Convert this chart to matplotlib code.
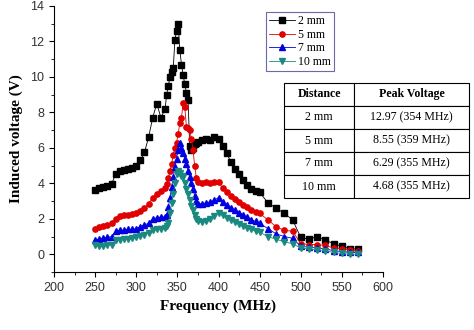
import matplotlib.pyplot as plt
from matplotlib.ticker import MultipleLocator

# frequency grid (MHz)
freq = [250, 255, 260, 265, 270, 275, 280, 285, 290, 295, 300, 305, 310, 315, 320, 325, 330, 335,
        337, 339, 341, 343, 345, 347, 349, 351, 353, 355, 357, 359, 361, 363, 365, 367, 369, 371, 373,
        375, 380, 385, 390, 395, 400, 405, 410, 415, 420, 425, 430, 435, 440, 445, 450,
        460, 470, 480, 490, 500, 510, 520, 530, 540, 550, 560, 570]

v_2mm = [3.65, 3.75, 3.8, 3.85, 3.95, 4.55, 4.7, 4.75, 4.8, 4.85, 4.95, 5.3, 5.75, 6.6, 7.7, 8.5, 7.7, 8.2,
         9.0, 9.5, 10.0, 10.3, 10.5, 12.1, 12.6, 12.97, 11.5, 10.7, 10.1, 9.6, 9.1, 8.7, 6.1, 5.9, 6.0, 6.2, 6.3,
         6.35, 6.45, 6.5, 6.45, 6.6, 6.5, 6.1, 5.7, 5.2, 4.8, 4.5, 4.2, 3.9, 3.7, 3.55, 3.5,
         2.9, 2.6, 2.3, 1.95, 0.95, 0.85, 1.0, 0.8, 0.6, 0.45, 0.3, 0.3]

v_5mm = [1.45, 1.55, 1.6, 1.65, 1.75, 2.0, 2.15, 2.2, 2.2, 2.25, 2.3, 2.45, 2.6, 2.85, 3.2, 3.4, 3.55, 3.75,
         3.95, 4.3, 4.7, 5.1, 5.6, 6.0, 6.3, 6.8, 7.4, 7.7, 8.55, 8.3, 7.2, 7.1, 7.0, 6.5, 5.9, 5.0, 4.3,
         4.05, 4.0, 4.05, 4.0, 4.1, 4.05, 3.75, 3.5, 3.3, 3.1, 2.95, 2.8, 2.65, 2.5, 2.4, 2.3,
         1.95, 1.55, 1.35, 1.3, 0.6, 0.55, 0.55, 0.5, 0.35, 0.3, 0.25, 0.2]

v_7mm = [0.8, 0.85, 0.9, 0.95, 1.0, 1.3, 1.35, 1.35, 1.4, 1.4, 1.45, 1.55, 1.65, 1.75, 2.0, 2.05, 2.1, 2.1,
         2.2, 2.65, 3.2, 3.8, 4.35, 4.9, 5.4, 5.9, 6.29, 6.0, 5.7, 5.4, 5.1, 4.7, 4.35, 4.0, 3.7, 3.3, 3.0,
         2.85, 2.85, 2.9, 2.95, 3.05, 3.2, 2.95, 2.8, 2.6, 2.5, 2.35, 2.2, 2.1, 1.95, 1.85, 1.75,
         1.45, 1.15, 1.0, 0.9, 0.45, 0.4, 0.35, 0.3, 0.2, 0.15, 0.1, 0.1]

v_10mm = [0.5, 0.45, 0.45, 0.5, 0.55, 0.8, 0.8, 0.85, 0.85, 0.9, 0.95, 1.05, 1.1, 1.2, 1.35, 1.45, 1.45, 1.5,
          1.6, 1.75, 2.3, 2.9, 3.4, 4.0, 4.5, 4.68, 4.6, 4.4, 4.35, 4.0, 3.7, 3.4, 3.05, 2.75, 2.5, 2.2, 2.0,
          1.85, 1.8, 1.9, 2.0, 2.15, 2.3, 2.2, 2.05, 1.95, 1.8, 1.7, 1.6, 1.5, 1.4, 1.3, 1.25,
          1.0, 0.85, 0.7, 0.6, 0.35, 0.3, 0.25, 0.2, 0.1, 0.05, 0.0, 0.0]

labels = ['2 mm', '5 mm', '7 mm', '10 mm']
colors = ['black', '#e00000', '#0000e0', '#1a8a80']
markers = ['s', 'o', '^', 'v']

table_head = ['Distance', 'Peak Voltage']
table_rows = [['2 mm', '12.97 (354 MHz)'],
              ['5 mm', '8.55 (359 MHz)'],
              ['7 mm', '6.29 (355 MHz)'],
              ['10 mm', '4.68 (355 MHz)']]

fig = plt.figure(figsize=(4.74, 3.30), dpi=100)
ax = fig.add_axes([54 / 474, 1 - 272 / 330, 329 / 474, 266 / 330])

for vals, lab, c, m in zip([v_2mm, v_5mm, v_7mm, v_10mm], labels, colors, markers):
    ax.plot(freq, vals, color=c, marker=m, markersize=3.8, linewidth=0.6, label=lab)

ax.set_xlim(200, 600)
ax.set_ylim(-1, 14)
ax.xaxis.set_major_locator(MultipleLocator(50))
ax.xaxis.set_minor_locator(MultipleLocator(25))
ax.yaxis.set_major_locator(MultipleLocator(2))
ax.yaxis.set_minor_locator(MultipleLocator(1))
ax.spines['top'].set_visible(False)
ax.spines['right'].set_visible(False)
ax.tick_params(which='major', direction='out', length=3.5, width=0.8, labelsize=9, labelcolor='#333333')
ax.tick_params(which='minor', direction='out', length=2, width=0.6)
for t in ax.get_xticklabels() + ax.get_yticklabels():
    t.set_family('Liberation Sans')

ax.set_xlabel('Frequency (MHz)', family='Liberation Serif', fontweight='bold', fontsize=11, labelpad=4)
ax.set_ylabel('Induced voltage (V)', family='Liberation Serif', fontweight='bold', fontsize=11, labelpad=5)

leg = fig.legend(loc='upper left', bbox_to_anchor=(266 / 474, 1 - 12 / 330), borderaxespad=0,
                 prop={'family': 'Liberation Serif', 'size': 8.5}, handlelength=2.2, handletextpad=0.3,
                 labelspacing=0.15, borderpad=0.25, fancybox=False, framealpha=1)
leg.get_frame().set_edgecolor('#6a6aa8')
leg.get_frame().set_linewidth(0.8)

tab_ax = fig.add_axes([284 / 474, 1 - 198 / 330, 185 / 474, 115 / 330])
tab_ax.axis('off')
tab = tab_ax.table(cellText=table_rows, colLabels=table_head, cellLoc='center',
                   colWidths=[0.38, 0.62], bbox=[0, 0, 1, 1])
tab.auto_set_font_size(False)
for (r, c), cell in tab.get_celld().items():
    cell.set_linewidth(0.8)
    cell.set_edgecolor('black')
    cell.set_facecolor('white')
    cell.get_text().set_family('Liberation Serif')
    cell.get_text().set_fontsize(8.6)
    if r == 0:
        cell.get_text().set_fontweight('bold')

fig.savefig('out.png', dpi=100)
